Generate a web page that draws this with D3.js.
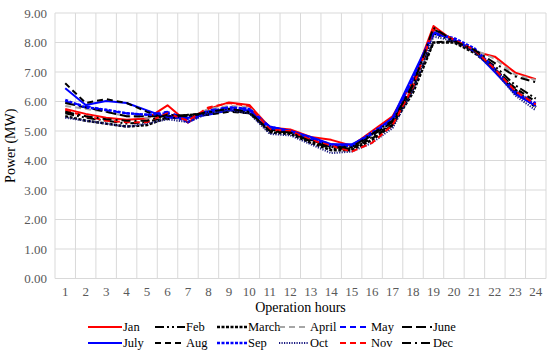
<!DOCTYPE html>
<html><head><meta charset="utf-8">
<script src="https://cdn.jsdelivr.net/npm/d3@7"></script>
<style>body{margin:0;background:#fff}svg{display:block}svg text{font-family:"Times New Roman","Liberation Serif","DejaVu Serif",serif !important}</style>
</head><body><svg id="c" width="550" height="358"></svg>
<script>
const hours = d3.range(1,25).map(String);
const yTicks = [0,1,2,3,4,5,6,7,8,9];
const months = ["Jan","Feb","March","April","May","June","July","Aug","Sep","Oct","Nov","Dec"];
const jan   = [5.75,5.58,5.45,5.38,5.42,5.87,5.28,5.75,5.97,5.88,5.12,5.05,4.80,4.70,4.50,5.00,5.50,6.70,8.56,8.05,7.70,7.52,6.98,6.76];
const feb   = [5.60,5.45,5.35,5.25,5.30,5.50,5.45,5.60,5.70,5.60,5.00,4.95,4.65,4.40,4.40,4.80,5.25,6.40,8.30,8.05,7.70,7.20,6.55,6.10];
const march = [5.50,5.35,5.25,5.15,5.20,5.45,5.50,5.65,5.75,5.65,4.95,4.90,4.60,4.35,4.35,4.70,5.20,6.30,8.00,8.00,7.65,7.10,6.40,5.80];
const april = [5.85,5.75,5.65,5.50,5.45,5.45,5.40,5.75,5.85,5.80,5.10,5.00,4.75,4.55,4.45,4.85,5.30,6.55,8.40,8.10,7.75,7.45,6.90,6.73];
const may   = [6.00,5.85,5.70,5.60,5.55,5.65,5.40,5.70,5.80,5.75,5.15,5.00,4.75,4.55,4.50,4.90,5.35,6.75,8.35,8.10,7.75,7.05,6.35,5.95];
const june  = [5.95,5.80,5.65,5.50,5.50,5.50,5.55,5.60,5.70,5.60,5.05,4.95,4.70,4.50,4.45,4.85,5.30,6.60,8.45,8.10,7.70,7.10,6.30,5.85];
const july  = [6.45,5.88,6.02,5.95,5.70,5.45,5.45,5.55,5.70,5.70,5.15,5.00,4.80,4.55,4.55,4.90,5.45,6.90,8.35,8.10,7.70,7.00,6.25,5.85];
const aug   = [6.62,5.95,6.08,5.95,5.65,5.40,5.55,5.55,5.65,5.60,5.05,4.95,4.70,4.45,4.40,4.75,5.20,6.45,8.00,8.05,7.70,7.10,6.45,6.00];
const sep   = [6.05,5.80,5.72,5.60,5.55,5.60,5.30,5.65,5.80,5.75,5.10,5.00,4.75,4.50,4.50,4.95,5.40,6.80,8.30,8.15,7.80,7.10,6.30,5.90];
const oct   = [5.45,5.35,5.25,5.15,5.25,5.40,5.30,5.60,5.70,5.60,4.90,4.85,4.55,4.25,4.30,4.60,5.10,6.40,8.20,8.05,7.70,7.05,6.20,5.70];
const nov   = [5.70,5.50,5.35,5.30,5.30,5.60,5.35,5.80,5.95,5.85,5.05,5.00,4.70,4.50,4.30,4.60,5.20,6.50,8.45,8.10,7.75,7.10,6.35,5.90];
const dec   = [5.65,5.50,5.40,5.35,5.35,5.55,5.50,5.65,5.75,5.65,5.00,4.95,4.65,4.45,4.45,4.90,5.35,6.55,8.50,8.05,7.75,7.30,6.85,6.65];
const seriesValues = [jan,feb,march,april,may,june,july,aug,sep,oct,nov,dec];
const styles = [
  {c:"#ff0000",d:null,w:2},
  {c:"#000000",d:"9,3,2,3,2,3",w:2},
  {c:"#000000",d:"3,1.5",w:2.5},
  {c:"#a6a6a6",d:"6,4",w:2},
  {c:"#0000ff",d:"6,4",w:2},
  {c:"#000000",d:"10,4",w:2},
  {c:"#0000ff",d:null,w:2},
  {c:"#000000",d:"6,4",w:2},
  {c:"#0000ff",d:"3,1.5",w:2.5},
  {c:"#1a1a80",d:"1.2,1.3",w:2},
  {c:"#ff0000",d:"6,4",w:2},
  {c:"#000000",d:"9,4,2,4",w:2}
];

const svg = d3.select("#c");
const L=55, R=546, T=13, B=278.5;
const x = d3.scaleBand().domain(hours).range([L,R]);
const y = d3.scaleLinear().domain([0,9]).range([B,T]);

const g = svg.append("g");
g.selectAll(".hy").data(yTicks).join("line")
  .attr("x1",L).attr("x2",R).attr("y1",d=>y(d)).attr("y2",d=>y(d))
  .attr("stroke","#d9d9d9").attr("stroke-width",1);
const bounds = hours.map(h=>x(h)).concat([R]);
g.selectAll(".vx").data(bounds).join("line")
  .attr("x1",d=>d).attr("x2",d=>d).attr("y1",T).attr("y2",B)
  .attr("stroke","#d9d9d9").attr("stroke-width",1);

const yAxis = svg.append("g").attr("transform",`translate(${L},0)`)
  .call(d3.axisLeft(y).tickValues(yTicks).tickFormat(d3.format(".2f")).tickSize(0).tickPadding(8));
yAxis.attr("font-family",null);
yAxis.select(".domain").remove();
yAxis.selectAll("text").attr("font-size","13px").attr("fill","#595959");
const xAxis = svg.append("g").attr("transform",`translate(0,${B})`)
  .call(d3.axisBottom(x).tickSize(0).tickPadding(8));
xAxis.attr("font-family",null);
xAxis.select(".domain").remove();
xAxis.selectAll("text").attr("font-size","13px").attr("fill","#595959");

svg.append("text").attr("x",(L+R)/2).attr("y",312).attr("text-anchor","middle")
  .attr("font-size","14px").attr("fill","#000").text("Operation hours");
svg.append("text").attr("transform",`translate(15,${(T+B)/2}) rotate(-90)`).attr("text-anchor","middle")
  .attr("font-size","14px").attr("fill","#000").text("Power (MW)");

const line = d3.line().x((d,i)=>x(hours[i])+x.bandwidth()/2).y(d=>y(d));
svg.append("g").selectAll("path").data(seriesValues).join("path")
  .attr("d",line).attr("fill","none")
  .attr("stroke",(d,i)=>styles[i].c).attr("stroke-width",(d,i)=>styles[i].w)
  .attr("stroke-dasharray",(d,i)=>styles[i].d).attr("stroke-linejoin","round");

const colX = [92,155,217,279,340,402];
const rowY = [327,343];
const lg = svg.append("g");
months.forEach((m,i)=>{
  const cx = colX[i%6], cy = rowY[Math.floor(i/6)];
  const x0 = i%6===0 ? 88 : cx;
  lg.append("line").attr("x1",x0).attr("x2",cx+30).attr("y1",cy).attr("y2",cy)
    .attr("stroke",styles[i].c).attr("stroke-width",styles[i].w).attr("stroke-dasharray",styles[i].d);
  lg.append("text").attr("x",cx+31).attr("y",cy+4).attr("font-size","12.5px").attr("fill","#000").text(m);
});
</script></body></html>
